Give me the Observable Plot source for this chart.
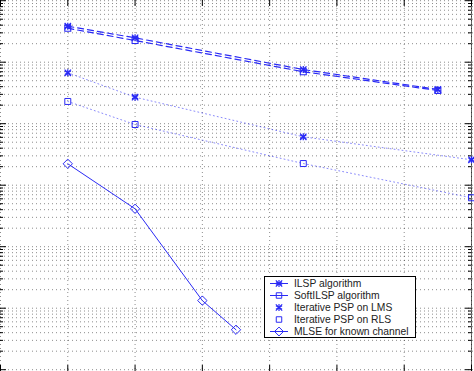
<!DOCTYPE html>
<html><head><meta charset="utf-8">
<script src="https://cdn.jsdelivr.net/npm/d3@7"></script>
<script src="https://cdn.jsdelivr.net/npm/@observablehq/plot@0.6"></script>
<style>
body{margin:0;background:#fff}
#chart{position:relative;width:474px;height:371px;overflow:hidden}
#legend{position:absolute;left:264px;top:276px}
</style>
</head><body><div id="chart"></div>
<script>
// SNR (dB) positions
const snrILSP = [2, 4, 9, 13];
const snrPSP = [2, 4, 9, 14];
const snrMLSE = [2, 4, 6, 7];
// BER values
const berILSP = [0.385, 0.249, 0.076, 0.036];
const berSoftILSP = [0.357, 0.225, 0.070, 0.0347];
const berLMS = [0.0673, 0.0270, 0.00612, 0.00259];
const berRLS = [0.0230, 0.0097, 0.00225, 0.000624];
const berMLSE = [0.00223, 0.000413, 1.33e-5, 4.46e-6];
// ticks
const xTicks = [0, 2, 4, 6, 8, 10, 12, 14];
const yDecades = [1e-6, 1e-5, 1e-4, 1e-3, 1e-2, 1e-1, 1];
const seriesNames = ["ILSP algorithm", "SoftILSP algorithm", "Iterative PSP on LMS", "Iterative PSP on RLS", "MLSE for known channel"];

const W = 474, H = 371;
const yMinor = d3.scaleLog().domain([1e-6, 1]).ticks().filter(v => !yDecades.includes(v));
const yAll = d3.scaleLog().domain([1e-6, 1]).ticks();
const toRows = (xs, ys) => xs.map((x, i) => ({x, y: ys[i]}));
const ilsp = toRows(snrILSP, berILSP);
const soft = toRows(snrILSP, berSoftILSP);
const lms = toRows(snrPSP, berLMS);
const rls = toRows(snrPSP, berRLS);
const mlse = toRows(snrMLSE, berMLSE);
const blue = "#2a2af5";
const gridStyle = {stroke: "#000", strokeOpacity: 0.45, strokeDasharray: "1,3"};

const chart = Plot.plot({
  width: W, height: H,
  marginLeft: 0, marginRight: 0, marginTop: 0, marginBottom: 0,
  x: {domain: [0, 14], range: [0, 471], axis: null},
  y: {type: "log", domain: [1e-6, 1], range: [369.2, 0.2], axis: null},
  marks: [
    Plot.ruleY(yAll, {y: d => d, ...gridStyle}),
    Plot.ruleX(xTicks, {x: d => d, ...gridStyle}),
    // axis ticks
    Plot.ruleX(xTicks, {x: d => d, stroke: "#000", insetBottom: H - 6}),
    Plot.ruleX(xTicks, {x: d => d, stroke: "#000", insetTop: H - 6}),
    Plot.ruleY(yDecades, {y: d => d, stroke: "#000", insetRight: W - 6}),
    Plot.ruleY(yMinor, {y: d => d, stroke: "#000", insetRight: W - 3}),
    Plot.ruleY(yDecades, {y: d => d, stroke: "#000", insetLeft: 471 - 6, insetRight: 3}),
    Plot.ruleY(yMinor, {y: d => d, stroke: "#000", insetLeft: 471 - 3, insetRight: 3}),
    Plot.ruleX([14], {x: d => d, stroke: "#000", strokeOpacity: 0.6}),
    // series
    Plot.line(ilsp, {x: "x", y: "y", stroke: blue, strokeWidth: 1.2, strokeDasharray: "6,4"}),
    Plot.line(soft, {x: "x", y: "y", stroke: blue, strokeWidth: 1.2, strokeDasharray: "6,4"}),
    Plot.line(lms, {x: "x", y: "y", stroke: blue, strokeWidth: 1, strokeOpacity: 0.55, strokeDasharray: "1,3"}),
    Plot.line(rls, {x: "x", y: "y", stroke: blue, strokeWidth: 1, strokeOpacity: 0.55, strokeDasharray: "1,3"}),
    Plot.line(mlse, {x: "x", y: "y", stroke: blue, strokeWidth: 1}),
    Plot.dot(ilsp, {x: "x", y: "y", symbol: "asterisk", r: 3.3, stroke: blue, strokeWidth: 1.3}),
    Plot.dot(ilsp, {x: "x", y: "y", symbol: "times", r: 3, stroke: blue, strokeWidth: 1.3}),
    Plot.dot(soft, {x: "x", y: "y", symbol: "square2", r: 3.8, stroke: blue, fill: "none", strokeWidth: 1.1}),
    Plot.dot(lms, {x: "x", y: "y", symbol: "asterisk", r: 3.3, stroke: blue, strokeWidth: 1.3}),
    Plot.dot(lms, {x: "x", y: "y", symbol: "times", r: 3, stroke: blue, strokeWidth: 1.3}),
    Plot.dot(rls, {x: "x", y: "y", symbol: "square2", r: 3.8, stroke: blue, fill: "none", strokeWidth: 1}),
    Plot.dot(mlse, {x: "x", y: "y", symbol: "diamond2", r: 4.2, stroke: blue, fill: "none", strokeWidth: 1})
  ]
});
const root = document.getElementById("chart");
root.appendChild(chart);

// legend
const lw = 152, lh = 62;
const leg = d3.create("svg").attr("id", "legend").attr("width", lw).attr("height", lh)
  .style("font-family", "'Liberation Sans', Arial, sans-serif");
leg.append("rect").attr("x", 0.5).attr("y", 0.5).attr("width", lw - 1).attr("height", lh - 1)
  .attr("fill", "#fff").attr("stroke", "#000");
const styles = [
  {dash: null, sym: ["asterisk", "times"]},
  {dash: null, sym: ["square2"]},
  {dash: "none", sym: ["asterisk", "times"]},
  {dash: "none", sym: ["square2"]},
  {dash: null, sym: ["diamond2"]}
];
const symMap = {asterisk: d3.symbolAsterisk, times: d3.symbolTimes, square2: d3.symbolSquare2, diamond2: d3.symbolDiamond2};
const rMap = {asterisk: 3.3, times: 3, square2: 3.5, diamond2: 4};
seriesNames.forEach((name, i) => {
  const cy = 7.5 + i * 12;
  const st = styles[i];
  if (st.dash !== "none") {
    leg.append("line").attr("x1", 6).attr("x2", 24).attr("y1", cy).attr("y2", cy)
      .attr("stroke", blue).attr("stroke-width", 1);
  }
  st.sym.forEach(s => {
    const r = rMap[s];
    leg.append("path").attr("d", d3.symbol(symMap[s], Math.PI * r * r)())
      .attr("transform", `translate(15,${cy})`).attr("fill", "none")
      .attr("stroke", blue).attr("stroke-width", s === "asterisk" || s === "times" ? 1.2 : 1);
  });
  leg.append("text").attr("x", 30).attr("y", cy).attr("dy", "0.36em")
    .attr("font-size", 10.3).attr("fill", "#222").text(name);
});
root.appendChild(leg.node());
</script>
</body></html>
